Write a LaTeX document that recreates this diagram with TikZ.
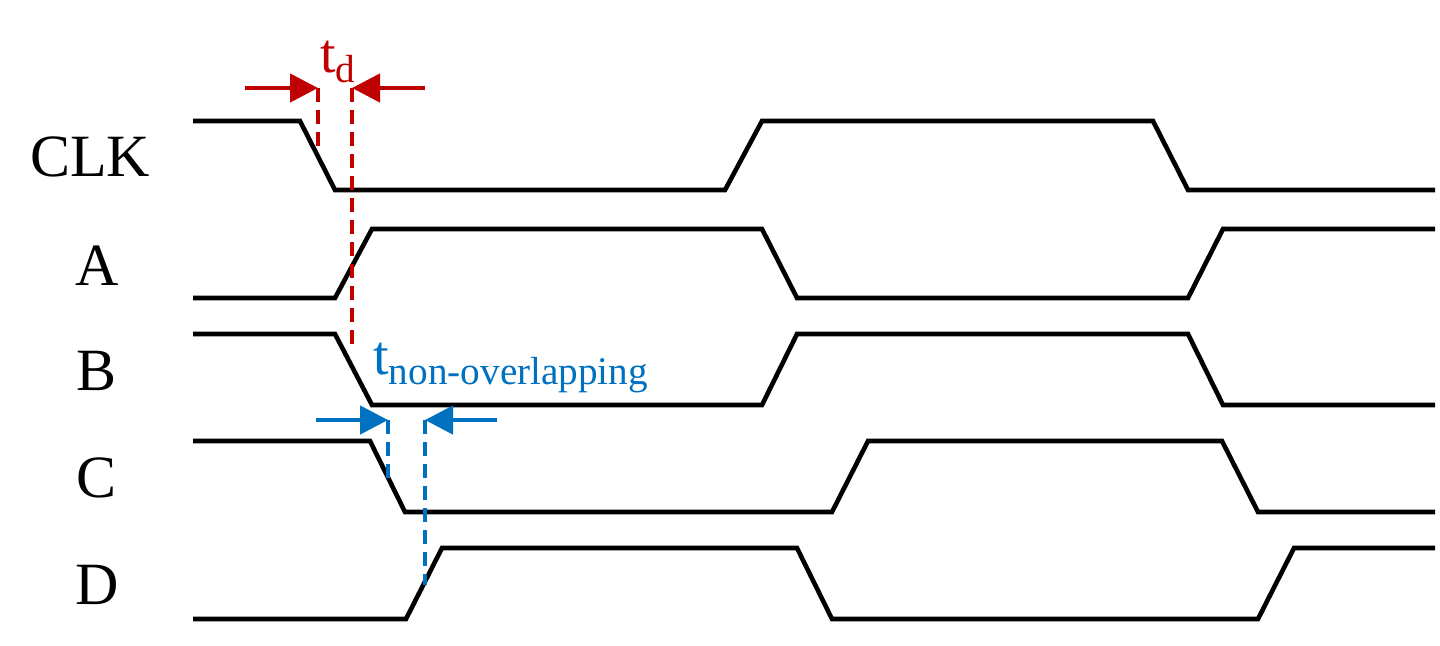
\documentclass[tikz,border=0pt]{standalone}
\usepackage{fontspec}
\setmainfont{Liberation Serif}
\usetikzlibrary{arrows.meta}
\definecolor{myred}{HTML}{C00000}
\definecolor{myblue}{HTML}{0070C0}
\begin{document}
\begin{tikzpicture}[x=0.5pt,y=-0.5pt,
  sig/.style={line width=2.3pt,black,line join=miter},
  lab/.style={font=\fontsize{30}{30}\selectfont},
  tlab/.style={font=\fontsize{28}{28}\selectfont},
  rdash/.style={myred,line width=2.3pt,dash pattern=on 7pt off 4pt},
  bdash/.style={myblue,line width=2.3pt,dash pattern=on 7pt off 4pt},
  rarr/.style={myred,line width=2.3pt,-{Triangle[length=14pt,width=14pt]}},
  barr/.style={myblue,line width=2.3pt,-{Triangle[length=14pt,width=14pt]}}]
\useasboundingbox (0,0) rectangle (1440,645);
\draw[sig] (193,121)--(300,121)--(335,190)--(725,190)--(762,121)--(1153,121)--(1188,190)--(1435,190);
\draw[sig] (193,298)--(335,298)--(372,229)--(762,229)--(797,298)--(1188,298)--(1223,229)--(1435,229);
\draw[sig] (193,334)--(335,334)--(372,405)--(762,405)--(797,334)--(1188,334)--(1223,405)--(1435,405);
\draw[sig] (193,441)--(370,441)--(405,512)--(832,512)--(868,441)--(1222,441)--(1258,512)--(1435,512);
\draw[sig] (193,619)--(406,619)--(442,548)--(797,548)--(832,619)--(1258,619)--(1294,548)--(1435,548);
\node[lab] (clk) at (90,157) {CLK};
\node[lab] (a) at (97,266) {A};
\node[lab] (b) at (97,371) {B};
\node[lab] (c) at (97,478) {C};
\node[lab] (d) at (97,585) {D};
\coordinate (r1t) at (318,88); \coordinate (r1b) at (318,152);
\coordinate (r2t) at (352,88); \coordinate (r2b) at (352,348);
\coordinate (r1s) at (245,88); \coordinate (r2s) at (425,88);
\draw[rdash] (r1t)--(r1b);
\draw[rdash] (r2t)--(r2b);
\draw[rarr] (r1s)--(r1t);
\draw[rarr] (r2s)--(r2t);
\node[tlab,myred,anchor=base west,inner sep=0] (td) at (320,72) {t\textsubscript{d}};
\coordinate (b1t) at (388,420); \coordinate (b1b) at (388,478);
\coordinate (b2t) at (425,420); \coordinate (b2b) at (425,585);
\coordinate (b1s) at (316,420); \coordinate (b2s) at (497,420);
\draw[bdash] (b1t)--(b1b);
\draw[bdash] (b2t)--(b2b);
\draw[barr] (b1s)--(b1t);
\draw[barr] (b2s)--(b2t);
\node[tlab,myblue,anchor=base west,inner sep=0] (tn) at (373,374) {t\textsubscript{non-overlapping}};
\end{tikzpicture}
\end{document}
